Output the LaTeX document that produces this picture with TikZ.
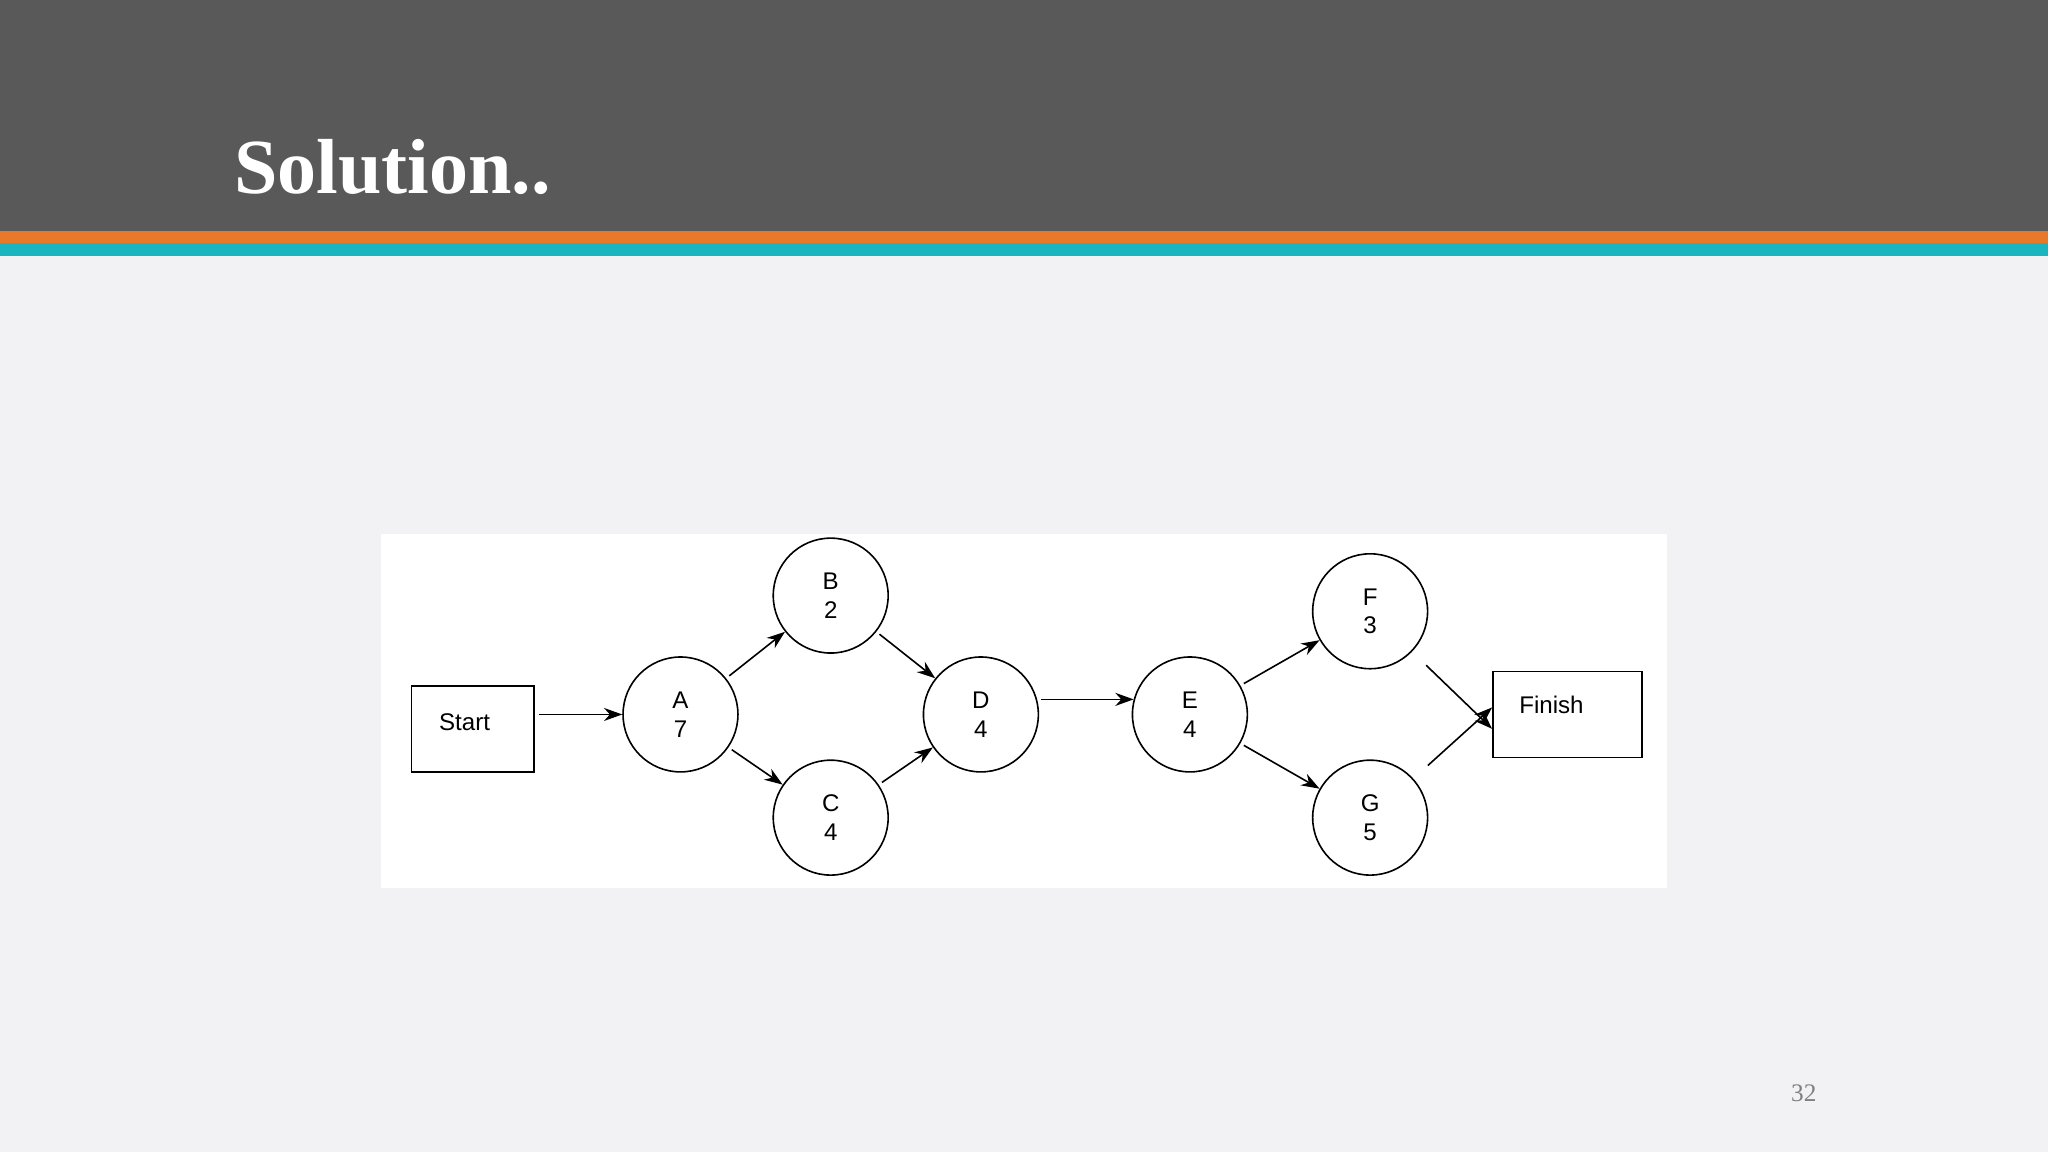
\documentclass[tikz,border=0pt]{standalone}
\usepackage{fontspec}
\setmainfont{Liberation Serif}
\newfontfamily\arialf{Liberation Sans}
\usetikzlibrary{arrows.meta}
\definecolor{bg}{HTML}{F2F1F4}
\definecolor{band}{HTML}{595959}
\definecolor{orng}{HTML}{E8782A}
\definecolor{teal}{HTML}{1BB5C0}
\tikzset{
 circ/.style={circle,draw,line width=0.7pt,minimum size=1.76cm,inner sep=0pt,align=center,font=\arialf\fontsize{10.5}{12.5}\selectfont},
 boxn/.style={draw,line width=0.7pt,inner sep=0pt,font=\arialf\fontsize{10.5}{12.5}\selectfont},
 arr/.style={-{Stealth[length=0.28cm,width=0.2cm]},line width=0.7pt,shorten <=0.06cm}
}
\begin{document}
\begin{tikzpicture}[x=0.02cm,y=-0.02cm]
\fill[bg] (0,0) rectangle (1568,882);
\useasboundingbox (0,0) rectangle (1568,882);
\fill[band] (0,0) rectangle (1568,177);
\fill[orng] (0,177) rectangle (1568,186);
\fill[teal] (0,186) rectangle (1568,196);
\node[anchor=base west,text=white,font=\bfseries\fontsize{34}{40}\selectfont,inner sep=0pt] (title) at (179,148) {Solution..};
\fill[white] (292,409) rectangle (1276,680);
\node[boxn,minimum width=1.88cm,minimum height=1.32cm] (S) at (362,558) {};
\node[font=\arialf\fontsize{10.5}{12.5}\selectfont,anchor=west] (St) at (330,553) {Start};
\node[boxn,minimum width=2.28cm,minimum height=1.32cm] (Fi) at (1200,547) {};
\node[font=\arialf\fontsize{10.5}{12.5}\selectfont,anchor=west] (Ft) at (1157,540) {Finish};
\node[circ] (A) at (521,547) {A\\7};
\node[circ] (B) at (636,456) {B\\2};
\node[circ] (C) at (636,626) {C\\4};
\node[circ] (D) at (751,547) {D\\4};
\node[circ] (E) at (911,547) {E\\4};
\node[circ] (F) at (1049,468) {F\\3};
\node[circ] (G) at (1049,626) {G\\5};
\draw[arr] (S.east|-A.180) -- (A.180);
\draw[arr] (A) -- (B);
\draw[arr] (A) -- (C);
\draw[arr] (B) -- (D);
\draw[arr] (C) -- (D);
\draw[arr] (D.15) -- (E.165);
\draw[arr] (E) -- (F);
\draw[arr] (E) -- (G);
\draw[arr,shorten <=0.3cm] (F) -- ([yshift=-0.22cm]Fi.west);
\draw[arr,shorten <=0.3cm] (G) -- ([yshift=0.78cm]Fi.south west);
\node[text=gray,font=\fontsize{11}{13}\selectfont] (pg) at (1381,837) {32};
\end{tikzpicture}
\end{document}
